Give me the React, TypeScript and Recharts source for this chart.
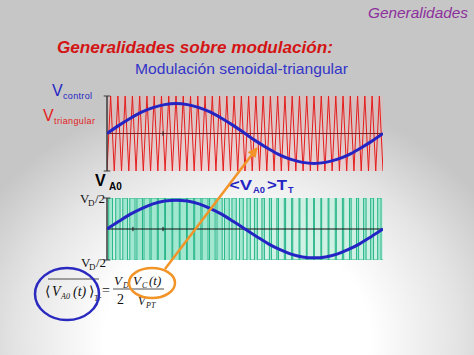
import React from 'react';
import { ComposedChart, Line, Area, XAxis, YAxis, ReferenceLine, ReferenceArea } from 'recharts';

// señal de control (senoidal), 25 muestras en un periodo
const controlWave = [0, 0.21, 0.4, 0.57, 0.69, 0.77, 0.8, 0.77, 0.69, 0.57, 0.4, 0.21, 0, -0.21, -0.4, -0.57, -0.69, -0.77, -0.8, -0.77, -0.69, -0.57, -0.4, -0.21, 0];

// tensión media de salida, misma forma escalada a V_D/2
const averageWave = [0, 0.24, 0.47, 0.66, 0.81, 0.9, 0.93, 0.9, 0.81, 0.66, 0.47, 0.24, 0, -0.24, -0.47, -0.66, -0.81, -0.9, -0.93, -0.9, -0.81, -0.66, -0.47, -0.24, 0];

// vértices de la portadora triangular
const carrierVertices = [
  -1, 1, -1, 1, -1, 1, -1, 1, -1, 1, -1, 1, -1, 1, -1, 1, -1, 1, -1, 1,
  -1, 1, -1, 1, -1, 1, -1, 1, -1, 1, -1, 1, -1, 1, -1, 1, -1, 1, -1, 1,
  -1, 1, -1, 1, -1, 1, -1, 1, -1, 1, -1, 1, -1, 1, -1, 1, -1, 1, -1, 1,
  -1, 1, -1, 1, -1, 1, -1, 1, -1, 1, -1, 1, -1, 1, -1, 1, -1,
];

// ciclo de trabajo de cada periodo de conmutación
const pwmDuty = [
  0.53, 0.6, 0.66, 0.72, 0.77, 0.82, 0.85, 0.88, 0.89, 0.9, 0.89, 0.88, 0.85,
  0.82, 0.77, 0.72, 0.66, 0.6, 0.53, 0.47, 0.4, 0.34, 0.28, 0.23, 0.18, 0.15,
  0.12, 0.11, 0.1, 0.11, 0.12, 0.15, 0.18, 0.23, 0.28, 0.34, 0.4, 0.47,
];

const controlData = controlWave.map((v, i) => ({ x: i / (controlWave.length - 1), v }));
const averageData = averageWave.map((v, i) => ({ x: i / (averageWave.length - 1), v }));
const carrierData = carrierVertices.map((v, i) => ({ x: i / (carrierVertices.length - 1), v }));

const pwmData: { x: number; v: number }[] = [];
pwmDuty.forEach((d, k) => {
  const n = pwmDuty.length;
  const c = (k + 0.5) / n;
  const h = d / (2 * n);
  pwmData.push({ x: k / n, v: -1 });
  pwmData.push({ x: c - h, v: 1 });
  pwmData.push({ x: c + h, v: -1 });
});
pwmData.push({ x: 1, v: -1 });

const BLUE = '#2424c4';
const RED = '#e41c1c';
const TEAL = '#27b58a';
const AXIS = '#3a3a3a';

const sans = '"Liberation Sans", Arial, sans-serif';
const serif = '"Liberation Serif", "Times New Roman", serif';

export default function App() {
  return (
    <div
      style={{
        position: 'absolute',
        left: 0,
        top: 0,
        width: 474,
        height: 355,
        overflow: 'hidden',
        background:
          'radial-gradient(ellipse 62% 70% at 50% 95%, #ffffff 0%, #ffffff 45%, #e4e4e4 75%, #c6c6c6 100%)',
      }}
    >
      {/* portadora y control */}
      <div style={{ position: 'absolute', left: 100, top: 90 }}>
        <ComposedChart width={290} height={88} margin={{ top: 6, left: 7, right: 7, bottom: 7 }}>
          <XAxis type="number" dataKey="x" domain={[0, 1]} hide allowDataOverflow />
          <YAxis type="number" domain={[-1, 1]} hide allowDataOverflow />
          <ReferenceArea x1={0} x2={1} y1={-1} y2={1} fill="#f6b0b0" fillOpacity={0.35} stroke="none" />
          <Line data={carrierData} dataKey="v" type="linear" stroke={RED} strokeWidth={1} dot={false} isAnimationActive={false} />
          <ReferenceLine y={0} stroke="#7a2222" strokeWidth={1} />
          <ReferenceLine x={0} stroke={AXIS} strokeWidth={1.5} />
          <ReferenceLine segment={[{ x: -0.012, y: 1 }, { x: 0.012, y: 1 }]} stroke={AXIS} ifOverflow="visible" />
          <ReferenceLine segment={[{ x: -0.012, y: -1 }, { x: 0.012, y: -1 }]} stroke={AXIS} ifOverflow="visible" />
          <ReferenceLine segment={[{ x: 0.203, y: -0.06 }, { x: 0.203, y: 0.06 }]} stroke="#222" />
          <Line data={controlData} dataKey="v" type="monotone" stroke={BLUE} strokeWidth={3} dot={false} isAnimationActive={false} />
        </ComposedChart>
      </div>

      {/* salida PWM */}
      <div style={{ position: 'absolute', left: 100, top: 192 }}>
        <ComposedChart width={290} height={75} margin={{ top: 6, left: 7, right: 7, bottom: 7 }}>
          <XAxis type="number" dataKey="x" domain={[0, 1]} hide allowDataOverflow />
          <YAxis type="number" domain={[-1, 1]} hide allowDataOverflow />
          <ReferenceArea x1={0} x2={1} y1={-1} y2={1} fill="#c4efdf" fillOpacity={0.8} stroke="none" />
          <Area
            data={pwmData}
            dataKey="v"
            type="stepAfter"
            baseValue={-1}
            stroke={TEAL}
            strokeWidth={1}
            fill="#8fe2c6"
            fillOpacity={0.7}
            isAnimationActive={false}
          />
          <ReferenceLine y={0} stroke="#111" strokeWidth={1} />
          <ReferenceLine x={0} stroke={AXIS} strokeWidth={1.5} />
          <ReferenceLine segment={[{ x: -0.012, y: 1 }, { x: 0.012, y: 1 }]} stroke={AXIS} ifOverflow="visible" />
          <ReferenceLine segment={[{ x: -0.012, y: -1 }, { x: 0.012, y: -1 }]} stroke={AXIS} ifOverflow="visible" />
          <ReferenceLine segment={[{ x: 0.094, y: -0.07 }, { x: 0.094, y: 0.07 }]} stroke="#111" />
          <ReferenceLine segment={[{ x: 0.203, y: -0.07 }, { x: 0.203, y: 0.07 }]} stroke="#111" />
          <Line data={averageData} dataKey="v" type="monotone" stroke={BLUE} strokeWidth={3} dot={false} isAnimationActive={false} />
        </ComposedChart>
      </div>

      {/* textos y anotaciones */}
      <svg width={474} height={355} style={{ position: 'absolute', left: 0, top: 0, pointerEvents: 'none' }}>
        <defs>
          <marker id="arrow" viewBox="0 0 10 10" refX="9" refY="5" markerWidth="4" markerHeight="4" orient="auto">
            <path d="M0,0 L10,5 L0,10 z" fill="#f29428" />
          </marker>
        </defs>

        <text x={368} y={18} fontFamily={sans} fontSize={14} fontStyle="italic" fill="#8c2f9c" textLength={100} lengthAdjust="spacingAndGlyphs">
          Generalidades
        </text>
        <text x={57} y={53} fontFamily={sans} fontSize={17} fontStyle="italic" fontWeight="bold" fill="#d41414" textLength={276} lengthAdjust="spacingAndGlyphs">
          Generalidades sobre modulación:
        </text>
        <text x={135} y={74} fontFamily={sans} fontSize={15} fill="#3434c8" textLength={213} lengthAdjust="spacingAndGlyphs">
          Modulación senoidal-triangular
        </text>

        <text x={52} y={96} fontFamily={sans} fontSize={16} fill={BLUE}>V</text>
        <text x={63} y={99} fontFamily={sans} fontSize={9} fill={BLUE} textLength={29}>control</text>
        <text x={43} y={121} fontFamily={sans} fontSize={16} fill={RED}>V</text>
        <text x={54} y={124} fontFamily={sans} fontSize={9} fill={RED} textLength={41}>triangular</text>

        <text x={95} y={186} fontFamily={sans} fontSize={16} fontWeight="bold" fill="#000">V</text>
        <text x={109} y={190} fontFamily={sans} fontSize={10} fontWeight="bold" fill="#000">A0</text>

        <text x={229} y={190} fontFamily={sans} fontSize={14} fontWeight="bold" fill={BLUE} textLength={23} lengthAdjust="spacingAndGlyphs">&lt;V</text>
        <text x={253} y={193} fontFamily={sans} fontSize={9} fontWeight="bold" fill={BLUE} textLength={12} lengthAdjust="spacingAndGlyphs">A0</text>
        <text x={267} y={190} fontFamily={sans} fontSize={14} fontWeight="bold" fill={BLUE} textLength={20} lengthAdjust="spacingAndGlyphs">&gt;T</text>
        <text x={288} y={193} fontFamily={sans} fontSize={9} fontWeight="bold" fill={BLUE}>T</text>

        <text x={80} y={203} fontFamily={serif} fontSize={13} fill="#111">V</text>
        <text x={88} y={206} fontFamily={serif} fontSize={9} fill="#111">D</text>
        <text x={95} y={203} fontFamily={serif} fontSize={13} fill="#111">/2</text>
        <text x={81} y={267} fontFamily={serif} fontSize={13} fill="#111">V</text>
        <text x={89} y={270} fontFamily={serif} fontSize={9} fill="#111">D</text>
        <text x={96} y={267} fontFamily={serif} fontSize={13} fill="#111">/2</text>

        {/* fórmula */}
        <line x1={48} y1={279} x2={99} y2={279} stroke="#222" strokeWidth={0.8} />
        <text x={45} y={296} fontFamily={serif} fontSize={14} fill="#111">⟨</text>
        <text x={52} y={296} fontFamily={serif} fontSize={14} fontStyle="italic" fill="#111">V</text>
        <text x={61} y={299} fontFamily={serif} fontSize={8} fontStyle="italic" fill="#111">A0</text>
        <text x={73} y={296} fontFamily={serif} fontSize={14} fontStyle="italic" fill="#111">(t)</text>
        <text x={89} y={296} fontFamily={serif} fontSize={14} fill="#111">⟩</text>
        <text x={94} y={301} fontFamily={serif} fontSize={8} fontStyle="italic" fill="#111">Tr</text>
        <text x={102} y={295} fontFamily={serif} fontSize={14} fill="#111">=</text>
        <text x={114} y={285} fontFamily={serif} fontSize={13} fontStyle="italic" fill="#111">V</text>
        <text x={123} y={288} fontFamily={serif} fontSize={8} fontStyle="italic" fill="#111">D</text>
        <text x={133} y={285} fontFamily={serif} fontSize={13} fontStyle="italic" fill="#111">V</text>
        <text x={142} y={288} fontFamily={serif} fontSize={8} fontStyle="italic" fill="#111">C</text>
        <text x={149} y={285} fontFamily={serif} fontSize={13} fontStyle="italic" fill="#111">(t)</text>
        <line x1={113} y1={289} x2={164} y2={289} stroke="#222" strokeWidth={0.8} />
        <text x={117} y={304} fontFamily={serif} fontSize={14} fill="#111">2</text>
        <text x={138} y={305} fontFamily={serif} fontSize={12} fontStyle="italic" fill="#111">V</text>
        <text x={146} y={308} fontFamily={serif} fontSize={8} fontStyle="italic" fill="#111">PT</text>

        <ellipse cx={67} cy={294} rx={32} ry={26} fill="none" stroke="#2a2ac0" strokeWidth={2.5} />
        <ellipse cx={152} cy={283} rx={23} ry={15} fill="none" stroke="#f29428" strokeWidth={2.5} />
        <line x1={165} y1={269} x2={257} y2={148} stroke="#f29428" strokeWidth={2.5} markerEnd="url(#arrow)" />
      </svg>
    </div>
  );
}
